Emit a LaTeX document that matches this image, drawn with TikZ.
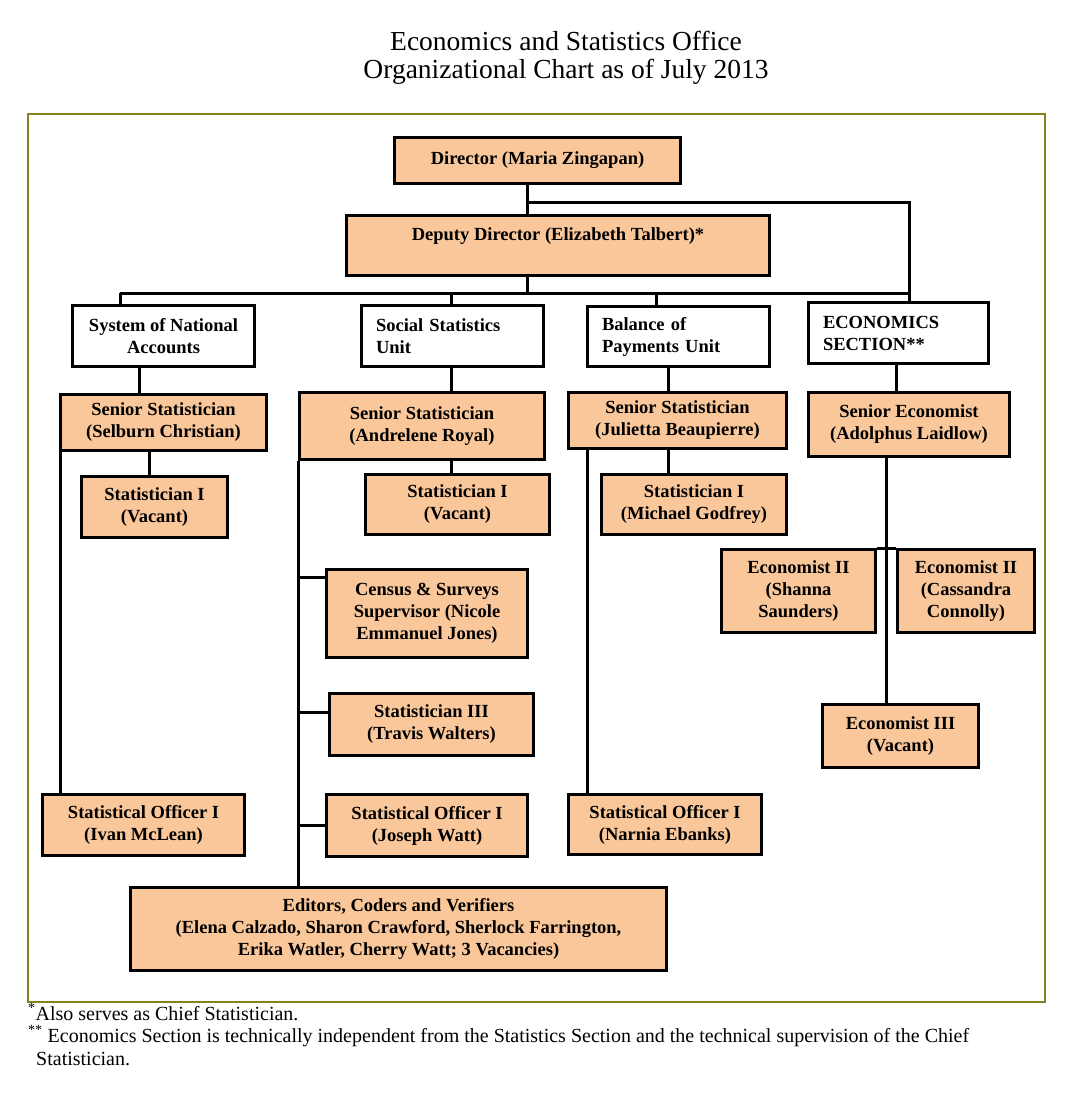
\documentclass[tikz,border=0pt]{standalone}
\usepackage{fontspec}
\setmainfont{Liberation Serif}
\usetikzlibrary{calc}
\definecolor{peach}{RGB}{250,199,154}
\definecolor{olivebd}{RGB}{130,130,30}
\newcommand\mybox[7][]{%
  \pgfmathsetmacro\bw{#5-#3-2.8}\pgfmathsetmacro\bh{#6-#4-2.8}\pgfmathsetmacro\tw{#5-#3-32}%
  \node[box,#1,minimum width=\bw pt,minimum height=\bh pt] (#2) at ({(#3+#5)/2},{(#4+#6)/2}) {#7};}
\tikzset{
  box/.style={draw=black,line width=2.8pt,fill=peach,align=center,inner sep=2pt,
    font=\bfseries\fontsize{18.5}{22}\selectfont},
  unit/.style={fill=white},
  lefttext/.style={align=left,text width=\tw pt},
  conn/.style={draw=black,line width=3pt},
  foot/.style={anchor=west,inner sep=0,text height=13pt,text depth=4pt,font=\fontsize{20}{24}\selectfont}
}
\begin{document}
\begin{tikzpicture}[x=1pt,y=-1pt]
\useasboundingbox (0,0) rectangle (1070,1100);
\fill[white] (0,0) rectangle (1070,1100);
% title
\node[font=\fontsize{27.5}{32}\selectfont] (t1) at (566,41) {Economics and Statistics Office};
\node[font=\fontsize{27.5}{32}\selectfont] (t2) at (566,72) {Organizational Chart as of July 2013};
% frame
\draw[olivebd,line width=2pt] (28,114) rectangle (1045,1002);
% boxes
\mybox{dir}{393}{136}{682}{185}{Director (Maria Zingapan)}
\mybox{dep}{345}{214}{771}{277}{Deputy Director (Elizabeth Talbert)*\\\mbox{}}
\mybox[unit]{sna}{71}{304}{256}{368}{System of National\\Accounts}
\mybox[unit,lefttext]{soc}{360}{304}{545}{368}{Social Statistics\\Unit}
\mybox[unit,lefttext]{bop}{586}{305}{771}{368}{Balance of\\Payments Unit}
\mybox[unit,lefttext]{eco}{807}{301}{990}{365}{ECONOMICS\\SECTION**}
\mybox{ss1}{59}{393}{268}{452}{Senior Statistician\\(Selburn Christian)}
\mybox{ss2}{298}{391}{546}{461}{Senior Statistician\\(Andrelene Royal)}
\mybox{ss3}{567}{391}{788}{450}{Senior Statistician\\(Julietta Beaupierre)}
\mybox{se}{807}{391}{1011}{458}{Senior Economist\\(Adolphus Laidlow)}
\mybox{st1}{80}{475}{229}{539}{Statistician I\\(Vacant)}
\mybox{st2}{364}{473}{551}{536}{Statistician I\\(Vacant)}
\mybox{st3}{600}{473}{788}{536}{Statistician I\\(Michael Godfrey)}
\mybox{cen}{325}{568}{529}{659}{Census \& Surveys\\Supervisor (Nicole\\Emmanuel Jones)}
\mybox{st4}{328}{692}{535}{757}{Statistician III\\(Travis Walters)}
\mybox{so1}{41}{793}{246}{857}{Statistical Officer I\\(Ivan McLean)}
\mybox{so2}{325}{793}{529}{858}{Statistical Officer I\\(Joseph Watt)}
\mybox{so3}{567}{793}{763}{856}{Statistical Officer I\\(Narnia Ebanks)}
\mybox{edi}{129}{886}{668}{972}{Editors, Coders and Verifiers\\(Elena Calzado, Sharon Crawford, Sherlock Farrington,\\Erika Watler, Cherry Watt; 3 Vacancies)}
\mybox{e2a}{720}{548}{877}{634}{Economist II\\(Shanna\\Saunders)}
\mybox{e2b}{896}{548}{1036}{634}{Economist II\\(Cassandra\\Connolly)}
\mybox{e3}{821}{703}{980}{769}{Economist III\\(Vacant)}
% junctions
\coordinate (j0) at (527,202);
\coordinate (jE) at (909,202);
\coordinate (j2) at (527,293);
\coordinate (jL) at (120,293);
\coordinate (jR) at (909,293);
\coordinate (jS) at (451,293);
\coordinate (jB) at (656,293);
\coordinate (cA) at (139,0);
\coordinate (cB) at (451,0);
\coordinate (cC) at (668,0);
\coordinate (cD) at (896,0);
\coordinate (cE) at (886,0);
\coordinate (cF) at (149.5,0);
\coordinate (cG) at (60,0);
\coordinate (cH) at (298,0);
\coordinate (cI) at (587,0);
\coordinate (cenj) at ($(cen.north west)+(0,9)$);
\coordinate (st4j) at ($(st4.north west)+(0,20)$);
% connectors
\draw[conn] (dir.south -| j0) -- (dep.north -| j0);
\draw[conn] (j0) -- (jE) -- (eco.north -| jE);
\draw[conn] (dep.south -| j2) -- (j2);
\draw[conn] (jL) -- (jR);
\draw[conn] (jL) -- (sna.north -| jL);
\draw[conn] (jS) -- (soc.north -| jS);
\draw[conn] (jB) -- (bop.north -| jB);
\draw[conn] (sna.south -| cA) -- (ss1.north -| cA);
\draw[conn] (soc.south -| cB) -- (ss2.north -| cB);
\draw[conn] (bop.south -| cC) -- (ss3.north -| cC);
\draw[conn] (eco.south -| cD) -- (se.north -| cD);
\draw[conn] (ss1.south -| cF) -- (st1.north -| cF);
\draw[conn] (ss1.south -| cG) -- (so1.north -| cG);
\draw[conn] (ss2.south -| cB) -- (st2.north -| cB);
\draw[conn] (ss2.south -| cH) -- (edi.north -| cH);
\draw[conn] (ss3.south -| cC) -- (st3.north -| cC);
\draw[conn] (ss3.south -| cI) -- (so3.north -| cI);
\draw[conn] (se.south -| cE) -- (e3.north -| cE);
\draw[conn] (e2a.north east) -- (e2b.north west);
\draw[conn] (cenj) -- (cenj -| cH);
\draw[conn] (st4j) -- (st4j -| cH);
\draw[conn] (so2.west) -- (so2.west -| cH);
% footnotes
\node[foot] (f1) at (28,1016) {\textsuperscript{*}Also serves as Chief Statistician.};
\node[foot] (f2) at (28,1038) {\textsuperscript{**} Economics Section is technically independent from the Statistics Section and the technical supervision of the Chief};
\node[foot] (f3) at (36,1061) {Statistician.};
\end{tikzpicture}
\end{document}
